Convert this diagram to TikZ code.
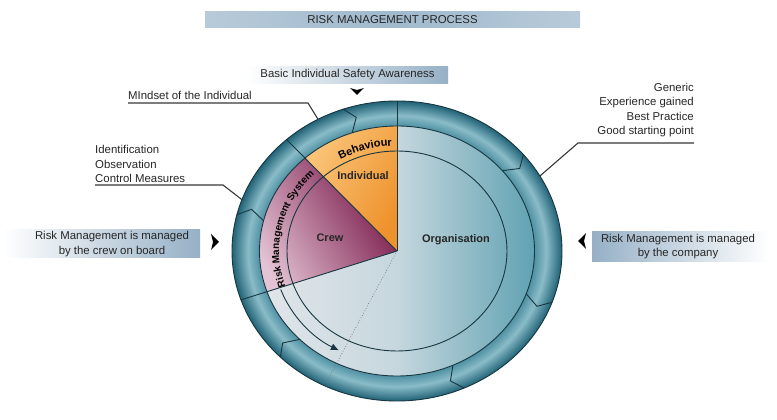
\documentclass[tikz,border=0pt]{standalone}
\usepackage{fontspec}
\setmainfont{Liberation Sans}
\usetikzlibrary{decorations.text,arrows.meta}

\definecolor{ringdark}{RGB}{32,98,118}
\definecolor{ringmid}{RGB}{138,188,200}
\definecolor{ringin}{RGB}{78,144,162}
\definecolor{discleft}{RGB}{226,230,234}
\definecolor{discmid}{RGB}{198,215,222}
\definecolor{discright}{RGB}{96,162,178}
\definecolor{crewdark}{RGB}{118,20,70}
\definecolor{crewlight}{RGB}{228,196,212}
\definecolor{indark}{RGB}{238,146,44}
\definecolor{inlight}{RGB}{250,196,120}
\definecolor{boxblue}{RGB}{150,176,198}
\definecolor{titleblue}{RGB}{160,185,205}
\definecolor{linegrey}{RGB}{55,55,55}
\definecolor{rimline}{RGB}{25,55,65}

\pgfdeclareradialshading{ringshade}{\pgfpoint{0bp}{0bp}}{color(0bp)=(ringin); color(20.8bp)=(ringin); color(22.6bp)=(ringmid); color(25bp)=(ringdark); color(50bp)=(ringdark)}

\begin{document}
\begin{tikzpicture}[x=1pt,y=1pt,
    every node/.style={font=\fontsize{11.4}{14.5}\selectfont,text=black!85},
    labeltext/.style={inner sep=0pt},
    inlabel/.style={inner sep=0pt,font=\fontsize{11}{13}\selectfont\bfseries},
    rim/.style={draw=rimline,line width=0.9pt},
    leader/.style={draw=linegrey,line width=1.1pt},
    pointer/.style={fill=black}]

    \useasboundingbox (0,0) rectangle (777,420);

    % boxes
    \node[minimum width=375,minimum height=16,left color=titleblue!75,right color=titleblue!75,middle color=titleblue] (title) at (392.5,400) {RISK MANAGEMENT PROCESS};
    \node[minimum width=201,minimum height=16,left color=white,right color=boxblue] (aware) at (347.5,345) {Basic Individual Safety Awareness};
    \node[minimum width=197,minimum height=28,left color=white,right color=boxblue] (crewbox) at (101.5,176) {};
    \node[labeltext,align=center] (crewtext) at (112,176) {Risk Management is managed\\by the crew on board};
    \node[minimum width=178,minimum height=30,left color=boxblue,right color=white] (companybox) at (681,173) {};
    \node[labeltext,align=center] (companytext) at (678,173.5) {Risk Management is managed\\by the company};

    % pointers
    \coordinate (awaretip) at (357,325);
    \coordinate (crewtip) at (219,178);
    \coordinate (companytip) at (578,179);
    \fill[pointer] (awaretip) -- ++(-7,7) -- ++(7,-2) -- ++(7,2) -- cycle;
    \fill[pointer] (crewtip) -- ++(-8,8) -- ++(2,-8) -- ++(-2,-8) -- cycle;
    \fill[pointer] (companytip) -- ++(8,8) -- ++(-2,-8) -- ++(2,-8) -- cycle;

    % the wheel
    \begin{scope}[shift={(397,169)}]
        \shade[shading=ringshade] (0,0) ellipse[x radius=165,y radius=150];
        \shade[left color=discleft,right color=discright,middle color=discmid] (0,0) ellipse[x radius=137.5,y radius=125];
        \shade[left color=inlight,right color=indark,shading angle=60] (0,0) -- (90:137.5 and 125) arc[start angle=90,end angle=132,x radius=137.5,y radius=125] -- cycle;
        \shade[left color=crewlight,right color=crewdark,shading angle=120] (0,0) -- (132:137.5 and 125) arc[start angle=132,end angle=199,x radius=137.5,y radius=125] -- cycle;

        \draw[rim] (0,0) ellipse[x radius=165,y radius=150];
        \draw[rim] (0,0) ellipse[x radius=137.5,y radius=125];
        \draw[rim] (0,0) ellipse[x radius=110,y radius=100];
        \foreach \a in {90,132,199}
            \draw[rim] (0,0) -- (\a:165 and 150);
        \foreach \a in {40,109,166,225,294,340}
            \draw[rim] (\a:137.5 and 125) -- ({\a-3.5}:152.6 and 138.75) -- (\a:165 and 150);

        \draw[dotted,draw=black!55,line width=0.7pt] (0,0) -- (244:161 and 146);
        \draw[rim,-{Latex[length=8pt,width=7pt]}] (200:123.75 and 112.5) arc[start angle=200,end angle=242,x radius=123.75,y radius=112.5];

        \node[inlabel] (org) at (59,11) {Organisation};
        \node[inlabel] (crew) at (-67,13) {Crew};
        \node[inlabel] (indiv) at (-34,75) {Individual};
        \path[decorate,decoration={text along path,text align=center,
            text={|\fontsize{11}{13}\selectfont\bfseries|Behaviour}}]
            (125:115.5 and 105) arc[start angle=125,end angle=87,x radius=115.5,y radius=105];
        \path[decorate,decoration={text along path,text align=center,
            text={|\fontsize{10}{12}\selectfont\bfseries|Risk Management System}}]
            (208:118 and 107.25) arc[start angle=208,end angle=126,x radius=118,y radius=107.25];

        \coordinate (mindrim) at (118.6:165 and 150);
        \coordinate (idrim) at (160:165 and 150);
        \coordinate (genrim) at (30:165 and 150);
    \end{scope}

    % leaders
    \node[labeltext,anchor=west] (mindset) at (128,325) {MIndset of the Individual};
    \coordinate (mindknee) at (308,317);
    \draw[leader] (mindset.west |- mindknee) -- (mindknee) -- (mindrim);

    \node[labeltext,anchor=west,align=left] (idblock) at (95,256) {Identification\\Observation\\Control Measures};
    \coordinate (idknee) at (223,235);
    \draw[leader] (idblock.west |- idknee) -- (idknee) -- (idrim);

    \node[labeltext,anchor=east,align=right] (genblock) at (694,310) {Generic\\Experience gained\\Best Practice\\Good starting point};
    \coordinate (genknee) at (578,277);
    \draw[leader] (genblock.east |- genknee) -- (genknee) -- (genrim);
\end{tikzpicture}
\end{document}
